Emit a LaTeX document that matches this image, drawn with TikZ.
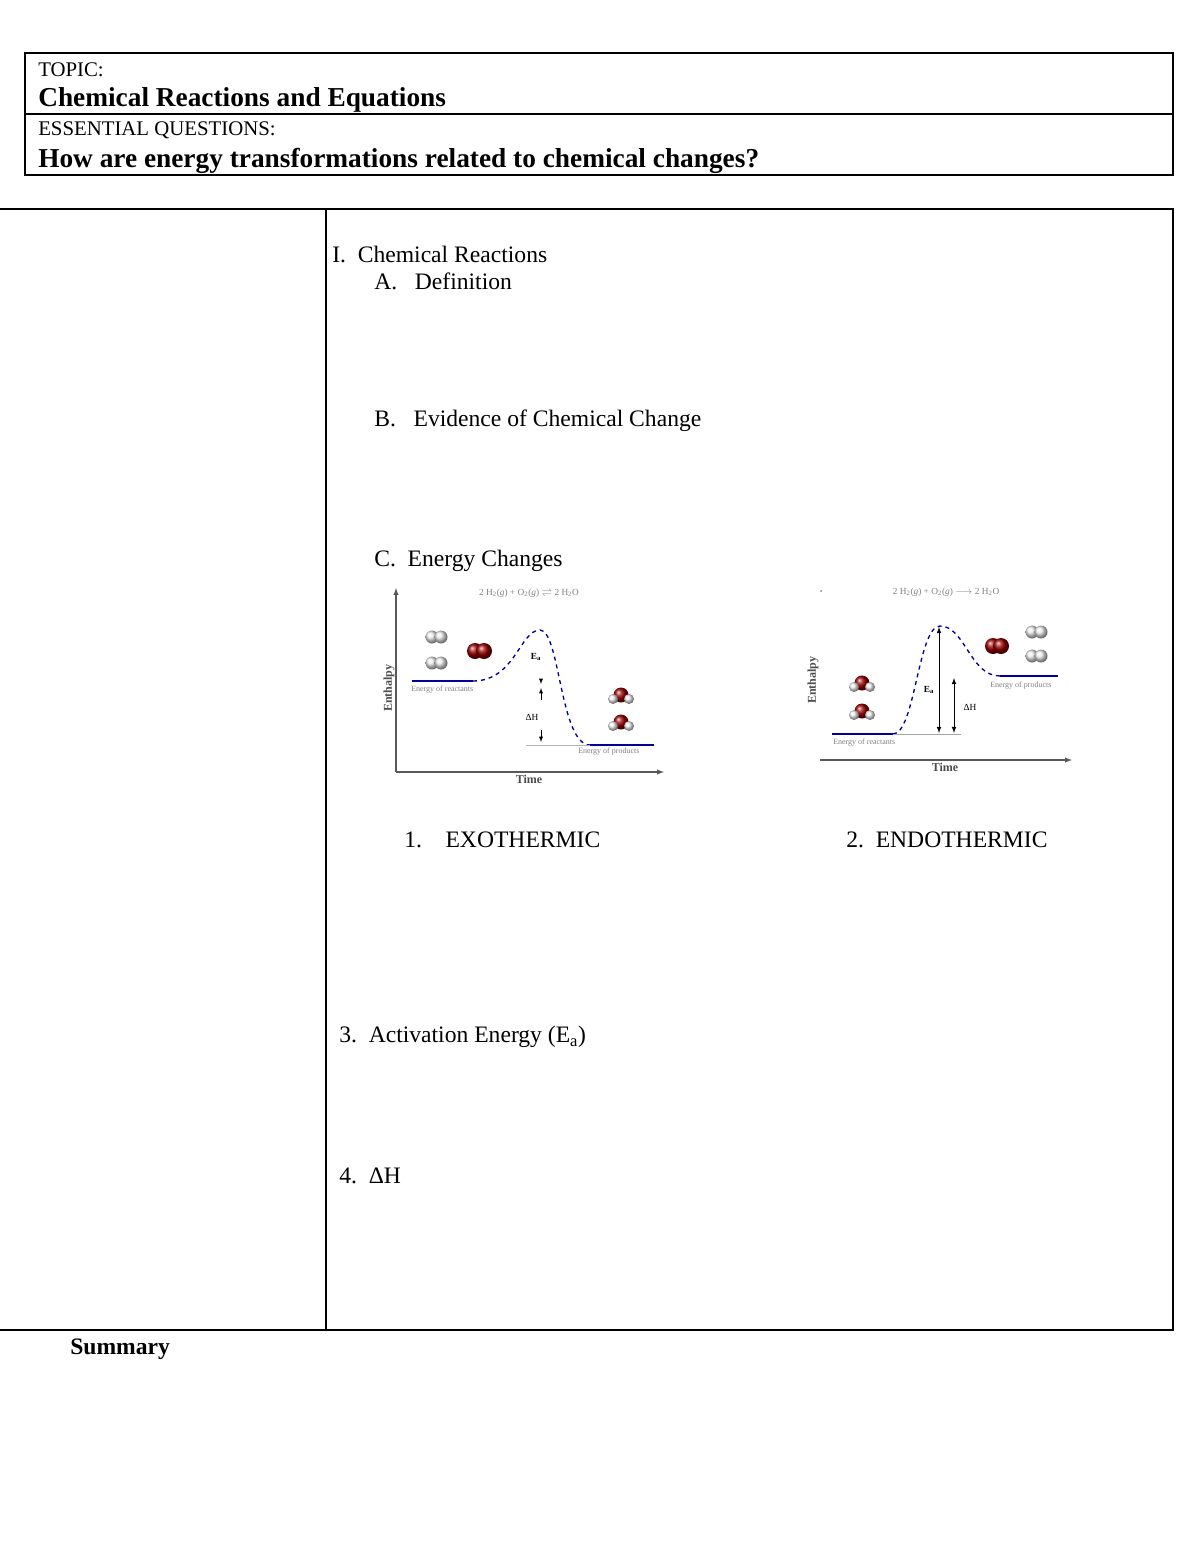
\documentclass[tikz,border=0pt]{standalone}
\usepackage{fontspec}
\setmainfont{Liberation Serif}
\begin{document}
\begin{tikzpicture}[x=0.75pt,y=-0.75pt,
 txt/.style={anchor=west,inner sep=0,font=\fontsize{17.7}{20}\selectfont},
 btxt/.style={anchor=west,inner sep=0,font=\fontsize{20.5}{23}\selectfont\bfseries},
 tiny/.style={inner sep=0,font=\fontsize{6}{7}\selectfont,text=gray},
 frame/.style={line width=1.6pt},
 curve/.style={blue!60!black,line width=1pt},
 lvl/.style={blue!60!black,line width=1pt},
 ax/.style={gray!70!black,line width=0.8pt,-latex},
 hball/.style={shading=ball,ball color=gray!15},
 oball/.style={shading=ball,ball color=red!60!black}]
\useasboundingbox (0,0) rectangle (1200,1553);
% top box
\draw[frame] (25,53) rectangle (1173,175);
\draw[frame] (25,114) -- (1173,114);
\node[txt,font=\fontsize{15.6}{18}\selectfont] (t1) at (38,70) {TOPIC:};
\node[btxt] (t2) at (38,100) {Chemical Reactions and Equations};
\node[txt,font=\fontsize{15.6}{18}\selectfont] (t3) at (38,130) {ESSENTIAL QUESTIONS:};
\node[btxt] (t4) at (38,161) {How are energy transformations related to chemical changes?};
% main box
\draw[frame] (0,209) -- (1173,209) -- (1173,1330) -- (0,1330);
\draw[frame] (326,209) -- (326,1330);
\node[txt] (a) at (332,254) {I.\ \ Chemical Reactions};
\node[txt] (b) at (374,281) {A.\ \ \ Definition};
\node[txt] (c) at (374,421) {B.\ \ \ Evidence of Chemical Change};
\node[txt] (d) at (374,561) {C.\ \ Energy Changes};
\node[txt] (e) at (404,840) {1.\ \ \ \ EXOTHERMIC};
\node[txt] (f) at (846,840) {2.\ \ ENDOTHERMIC};
\node[txt] (g) at (339,1037) {3.\ \ Activation Energy (E\textsubscript{a})};
\node[txt] (h) at (339,1176) {4.\ \ ΔH};
\node[btxt,font=\fontsize{17.7}{20}\selectfont\bfseries] (s) at (70,1349) {Summary};
% exothermic diagram
\coordinate (xo) at (396,772);
\draw[ax] (xo) -- (396,588);
\draw[ax] (xo) -- (664,772);
\node[tiny,font=\fontsize{9}{10}\selectfont\bfseries,text=gray!60!black] (xt) at (529,779) {Time};
\node[tiny,font=\fontsize{9}{10}\selectfont\bfseries,text=gray!60!black,rotate=90] (yt) at (389,688) {Enthalpy};
\node[tiny,font=\fontsize{7}{8}\selectfont] (eq1) at (529,593) {2 H\textsubscript{2}(\textit{g}) + O\textsubscript{2}(\textit{g}) $\rightleftharpoons$ 2 H\textsubscript{2}O};
\draw[lvl] (412,681) -- (473,681);
\draw[curve,dashed] (473,681) .. controls (515,681) and (520,630) .. (540,630) .. controls (560,630) and (560,745) .. (590,745);
\draw[lvl] (590,745) -- (654,745);
\draw[gray!60,line width=0.6pt] (526,745) -- (590,745);
\node[tiny,anchor=north west] (er1) at (411,686) {Energy of reactants};
\node[tiny,anchor=north west] (ep1) at (578,748) {Energy of products};
\node[tiny,font=\fontsize{7}{8}\selectfont\bfseries,text=black] (ea1) at (536,657) {E\textsubscript{a}};
\node[tiny,font=\fontsize{7}{8}\selectfont,text=black] (dh1) at (532,717) {ΔH};
\draw[-latex,line width=0.4pt] (541,700) -- (541,688);
\draw[-latex,line width=0.4pt] (541,730) -- (541,742);
\draw[-latex,line width=0.4pt] (541,680) -- (541,684);
\foreach \y in {637,663} {\shade[hball] (432,\y) circle (6.5); \shade[hball] (441,\y) circle (6.5);}
\shade[oball] (475,651) circle (8); \shade[oball] (484,651) circle (8);
\foreach \y in {695,722} {\shade[oball] (621,\y) circle (7.5); \shade[hball] (613,\y+4) circle (5); \shade[hball] (629,\y+4) circle (5);}
% endothermic diagram
\coordinate (xn) at (820,760);
\draw[ax] (xn) -- (1072,760);
\fill[gray] (821,591) circle (1);
\node[tiny,font=\fontsize{9}{10}\selectfont\bfseries,text=gray!60!black] (xt2) at (945,767) {Time};
\node[tiny,font=\fontsize{9}{10}\selectfont\bfseries,text=gray!60!black,rotate=90] (yt2) at (813,680) {Enthalpy};
\node[tiny,font=\fontsize{7}{8}\selectfont] (eq2) at (946,592) {2 H\textsubscript{2}(\textit{g}) + O\textsubscript{2}(\textit{g}) $\longrightarrow$ 2 H\textsubscript{2}O};
\draw[lvl] (832,734) -- (893,734);
\draw[curve,dashed] (893,734) .. controls (915,734) and (918,626) .. (940,626) .. controls (965,626) and (970,676) .. (1000,676);
\draw[lvl] (1000,676) -- (1058,676);
\draw[gray!70,line width=0.6pt] (893,734) -- (961,734);
\node[tiny,anchor=north west] (er2) at (833,739) {Energy of reactants};
\node[tiny,anchor=north west] (ep2) at (990,682) {Energy of products};
\draw[latex-latex,line width=0.6pt] (939,627) -- (939,733);
\draw[latex-latex,line width=0.6pt] (954,678) -- (954,733);
\node[tiny,font=\fontsize{7}{8}\selectfont\bfseries,text=black] (ea2) at (929,690) {E\textsubscript{a}};
\node[tiny,font=\fontsize{7}{8}\selectfont,text=black] (dh2) at (970,707) {ΔH};
\foreach \y in {683,711} {\shade[oball] (862,\y) circle (7.5); \shade[hball] (854,\y+4) circle (5); \shade[hball] (870,\y+4) circle (5);}
\shade[oball] (993,646) circle (8); \shade[oball] (1001,646) circle (8);
\foreach \y in {632,656} {\shade[hball] (1032,\y) circle (6.5); \shade[hball] (1041,\y) circle (6.5);}
\end{tikzpicture}
\end{document}
